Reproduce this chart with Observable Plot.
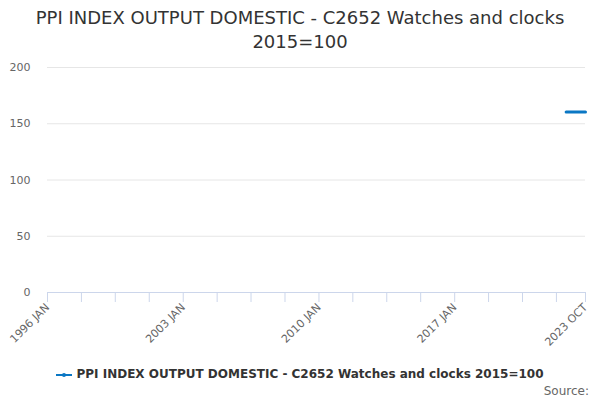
<!DOCTYPE html>
<html>
<head>
<meta charset="utf-8">
<script src="https://cdn.jsdelivr.net/npm/d3@7"></script>
<script src="https://cdn.jsdelivr.net/npm/@observablehq/plot@0.6"></script>
<style>
  html, body { margin: 0; padding: 0; background: #fff; }
  #wrap { position: relative; width: 600px; height: 400px; overflow: hidden; font-family: "DejaVu Sans", sans-serif; }
  #title { position: absolute; left: 0; top: 6px; width: 600px; text-align: center; font-size: 18px; line-height: 24px; color: #333; }
  #chart { position: absolute; left: 0; top: 0; }
  #legend { position: absolute; left: 0; top: 366px; width: 600px; text-align: center; font-size: 12px; font-weight: bold; color: #333; line-height: 16px; }
  #legend svg { vertical-align: middle; margin-right: 4px; }
  #source { position: absolute; right: 11px; top: 384px; font-size: 12px; color: #666; }
</style>
</head>
<body>
<div id="wrap">
  <div id="chart"></div>
  <div id="title">PPI INDEX OUTPUT DOMESTIC - C2652 Watches and clocks<br>2015=100</div>
  <div id="legend"></div>
  <div id="source">Source:</div>
</div>
<script>
const seriesName = "PPI INDEX OUTPUT DOMESTIC - C2652 Watches and clocks 2015=100";
const months = ["2022-10","2022-11","2022-12","2023-01","2023-02","2023-03","2023-04","2023-05","2023-06","2023-07","2023-08","2023-09","2023-10"];
const values = [160.4,160.4,160.4,160.4,160.4,160.4,160.4,160.4,160.4,160.4,160.4,160.4,160.4];
const yTicks = [0, 50, 100, 150, 200];
const axisStart = "1996-01";
const axisEnd = "2023-10";
const tickStepMonths = 21;
const labelledTicks = ["1996-01","2003-01","2010-01","2017-01","2023-10"];
const monthNames = ["JAN","FEB","MAR","APR","MAY","JUN","JUL","AUG","SEP","OCT","NOV","DEC"];

const parse = s => { const [y, m] = s.split("-").map(Number); return new Date(Date.UTC(y, m - 1, 1)); };
const data = months.map((m, i) => ({date: parse(m), value: values[i]}));

const start = parse(axisStart), end = parse(axisEnd);
const xTicks = [];
for (let d = start; d < end; d = d3.utcMonth.offset(d, tickStepMonths)) xTicks.push(d);
xTicks.push(end);
const labelSet = new Set(labelledTicks.map(s => +parse(s)));
const fmt = d => labelSet.has(+d) ? `${d.getUTCFullYear()} ${monthNames[d.getUTCMonth()]}` : "";

const chart = Plot.plot({
  width: 600,
  height: 360,
  marginTop: 67,
  marginBottom: 68,
  marginLeft: 47,
  marginRight: 15,
  style: {fontFamily: "DejaVu Sans, sans-serif", fontSize: "11px", color: "#666", background: "transparent"},
  x: {type: "utc", domain: [start, end]},
  y: {domain: [0, 200]},
  marks: [
    Plot.gridY(yTicks, {stroke: "#e6e6e6", strokeOpacity: 1}),
    Plot.axisY(yTicks, {tickSize: 0, tickPadding: 17, label: null, fill: "#666"}),
    Plot.ruleY([0], {stroke: "#ccd6eb", strokeWidth: 1}),
    Plot.axisX(xTicks, {tickSize: 10, stroke: "#ccd6eb", tickRotate: -45, tickFormat: fmt, tickPadding: 3, label: null, fill: "#666"}),
    Plot.line(data, {x: "date", y: "value", stroke: "#0a77c4", strokeWidth: 3, curve: "linear"})
  ]
});
document.getElementById("chart").appendChild(chart);

const legend = document.getElementById("legend");
const ns = "http://www.w3.org/2000/svg";
const icon = document.createElementNS(ns, "svg");
icon.setAttribute("width", "16"); icon.setAttribute("height", "10");
icon.innerHTML = '<line x1="0" y1="5" x2="16" y2="5" stroke="#0a77c4" stroke-width="2"/><circle cx="8" cy="5" r="2" fill="#0a77c4"/>';
legend.appendChild(icon);
legend.appendChild(document.createTextNode(seriesName));
</script>
</body>
</html>
